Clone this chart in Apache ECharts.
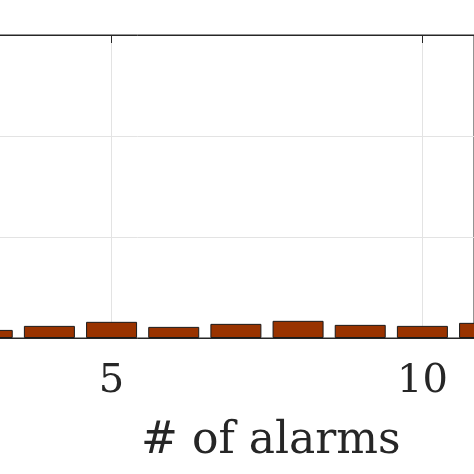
<!DOCTYPE html><html><head><meta charset="utf-8"><script src="https://cdn.jsdelivr.net/npm/echarts@6/dist/echarts.min.js"></script></head><body style="margin:0;overflow:hidden;width:474px;height:474px;background:#fff"><div id="c" style="width:689px;height:474px;margin-left:-215px"></div><script>
const alarms=[3,4,5,6,7,8,9,10,11];
const freq=[0.008,0.012,0.016,0.011,0.014,0.017,0.013,0.012,0.015];
const xTicks=[0,5,10];
const ch=echarts.init(document.getElementById('c'));
ch.setOption({animation:false,
grid:{left:0,right:0,top:35,bottom:136,show:true,borderColor:'#262626',borderWidth:1},
xAxis:[{type:'value',min:0,max:10.83,interval:5,axisLine:{lineStyle:{color:'#262626'}},axisTick:{inside:true,length:8,lineStyle:{color:'#262626'}},
 splitLine:{show:true,lineStyle:{color:'#e3e3e3'}},axisLabel:{color:'#262626',fontFamily:'DejaVu Serif',fontSize:40,margin:24,showMaxLabel:false,formatter:v=>xTicks.includes(v)?String(v):''},
 name:'# of alarms',nameLocation:'middle',nameGap:82,nameTextStyle:{fontFamily:'DejaVu Serif',fontSize:44,color:'#262626',padding:[0,0,0,267]}},
 {type:'value',position:'top',min:0,max:10.83,interval:5,axisLine:{lineStyle:{color:'#262626'}},axisTick:{inside:true,length:8,lineStyle:{color:'#262626'}},axisLabel:{show:false},splitLine:{show:false}}],
yAxis:{type:'value',min:0,max:0.3,interval:0.1,axisLabel:{show:false},axisLine:{show:false},axisTick:{show:false},splitLine:{lineStyle:{color:'#e3e3e3'}}},
series:[{type:'bar',barWidth:51,data:alarms.map((a,i)=>[a,freq[i]]),itemStyle:{color:'#993300',borderColor:'#1a1a1a',borderWidth:1}}]});
</script></body></html>
